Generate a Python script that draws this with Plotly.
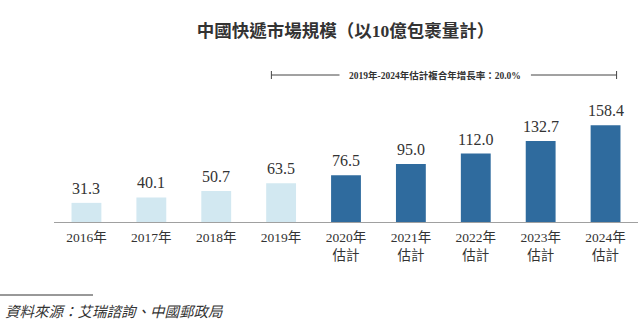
import plotly.graph_objects as go

categories = ["2016年", "2017年", "2018年", "2019年", "2020年<br>估計", "2021年<br>估計",
              "2022年<br>估計", "2023年<br>估計", "2024年<br>估計"]
values = [31.3, 40.1, 50.7, 63.5, 76.5, 95.0, 112.0, 132.7, 158.4]
is_estimate = [False, False, False, False, True, True, True, True, True]

title_text = "中國快遞市場規模（以10億包裹量計）"
cagr_text = "2019年-2024年估計複合年增長率：20.0%"
source_text = "資料來源：艾瑞諮詢、中國郵政局"

LIGHT = "#d2e8f1"
DARK = "#2f6b9e"
SERIF = "Liberation Serif, Times New Roman, Noto Sans CJK TC, serif"

colors = [DARK if e else LIGHT for e in is_estimate]
xs = list(range(len(categories)))

fig = go.Figure()
fig.add_trace(go.Bar(
    x=xs,
    y=values,
    marker=dict(color=colors, line=dict(width=0)),
    width=0.46,
    hoverinfo="skip",
))

for xi, v in zip(xs, values):
    fig.add_annotation(x=xi, y=v, xref="x", yref="y", text=f"{v:.1f}",
                       showarrow=False, xanchor="center", yanchor="bottom", yshift=4,
                       font=dict(family=SERIF, size=16, color="#333333"))

fig.update_layout(
    width=640, height=322,
    margin=dict(l=54, r=2, t=60, b=100),
    paper_bgcolor="white", plot_bgcolor="white",
    showlegend=False,
    title=dict(text=f"<b>{title_text}</b>", x=0.54, xanchor="center", y=0.905, yanchor="middle",
               font=dict(family=SERIF, size=17.5, color="#333333")),
    xaxis=dict(
        tickmode="array", tickvals=xs, ticktext=categories,
        range=[-0.5, len(categories) - 0.5],
        showline=True, linecolor="#a0a0a0", linewidth=1,
        showgrid=False, zeroline=False, ticks="outside", ticklen=3, tickcolor="rgba(0,0,0,0)",
        tickfont=dict(family=SERIF, size=13.5, color="#333333"),
    ),
    yaxis=dict(range=[0, 265], visible=False, showgrid=False, zeroline=False),
)

# CAGR bracket
y_line = 75
x0, x1 = 2.85, 8.17
gap_l, gap_r = 3.9, 6.85
line_style = dict(color="#444444", width=1)
fig.add_shape(type="line", xref="x", yref="paper", x0=x0, x1=gap_l,
              y0=1 - (y_line - 60) / 162, y1=1 - (y_line - 60) / 162, line=line_style)
fig.add_shape(type="line", xref="x", yref="paper", x0=gap_r, x1=x1,
              y0=1 - (y_line - 60) / 162, y1=1 - (y_line - 60) / 162, line=line_style)
for xx in (x0, x1):
    fig.add_shape(type="line", xref="x", yref="paper", x0=xx, x1=xx,
                  y0=1 - (y_line - 56) / 162, y1=1 - (y_line - 64) / 162, line=line_style)
fig.add_annotation(text=f"<b>{cagr_text}</b>", xref="x", yref="paper",
                   x=(gap_l + gap_r) / 2, y=1 - (y_line - 60) / 162,
                   showarrow=False, xanchor="center", yanchor="middle",
                   font=dict(family=SERIF, size=9.5, color="#333333"))

# Source footnote
fig.add_shape(type="line", xref="paper", yref="paper",
              x0=-54 / 584, x1=(93 - 54) / 584,
              y0=-(295 - 222) / 162, y1=-(295 - 222) / 162,
              line=dict(color="#333333", width=1))
fig.add_annotation(text=f"<i>{source_text}</i>", xref="paper", yref="paper",
                   x=-51 / 584, y=-(310 - 222) / 162, xanchor="left", yanchor="middle",
                   showarrow=False,
                   font=dict(family="Noto Sans CJK TC, sans-serif", size=14.5, color="#333333"))

fig.write_html("out.html")
